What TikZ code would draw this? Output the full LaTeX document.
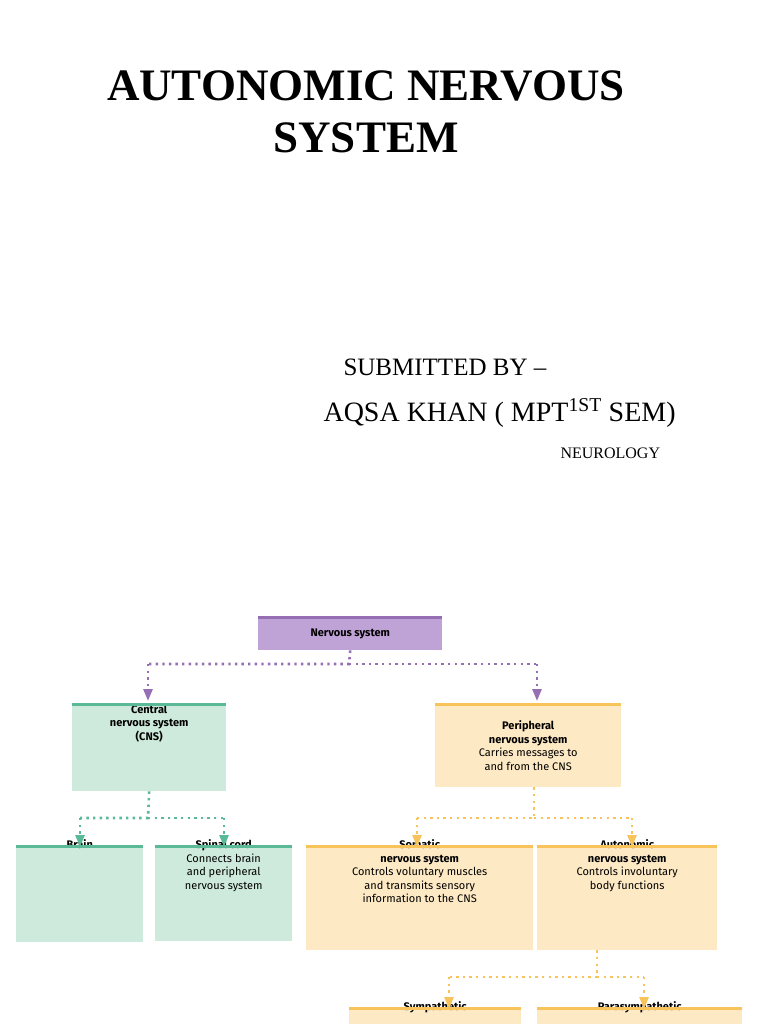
\documentclass[tikz,border=0pt]{standalone}
\usepackage{fontspec}
\setmainfont{Liberation Serif}
\newfontfamily\boxfont{Fira Sans}
\usetikzlibrary{arrows.meta}
\definecolor{nsfill}{RGB}{192,163,214}
\definecolor{nsline}{RGB}{150,110,180}
\definecolor{cnsfill}{RGB}{206,234,220}
\definecolor{cnsline}{RGB}{90,185,150}
\definecolor{pnsfill}{RGB}{253,233,196}
\definecolor{pnsline}{RGB}{247,195,90}
\tikzset{
    box/.style = {
        anchor=north west,
        inner sep=0pt,
        align=center,
        font=\boxfont\fontsize{11}{13.5}\selectfont,
        },
    ns box/.style = {
        box,
        fill = nsfill,
        },
    cns box/.style = {
        box,
        fill = cnsfill,
        },
    pns box/.style = {
        box,
        fill = pnsfill,
        },
    link/.style = {
        line width=2.6pt,
        dash pattern=on 2.4pt off 4.2pt,
        },
    tip/.style = {
        -{Triangle[width=9pt,length=12pt]},
        line width=2.6pt,
        dash pattern=on 2.4pt off 4.2pt,
        shorten >=-1pt,
        },
}

\begin{document}
\begin{tikzpicture}[x=1pt,y=-1pt]
    \useasboundingbox (0,0) rectangle (768,1024);

    % title page text
    \node[font=\bfseries\fontsize{45}{52}\selectfont, align=center] (title) at (366,112)
        {AUTONOMIC NERVOUS\\SYSTEM};
    \node[font=\fontsize{25}{30}\selectfont, anchor=west] (by) at (340,367) {SUBMITTED BY --};
    \node[font=\fontsize{28}{32}\selectfont, anchor=west] (name) at (320,413)
        {AQSA KHAN ( MPT\textsuperscript{1ST} SEM)};
    \node[font=\fontsize{16}{20}\selectfont, anchor=west] (dept) at (557,453) {NEUROLOGY};

    % boxes
    \node[ns box, minimum width=184pt, minimum height=33pt] (ns) at (258,617)
        {\textbf{Nervous system}};
    \node[cns box, minimum width=154pt, minimum height=87pt, text depth=50pt] (cns) at (72,704)
        {\textbf{Central}\\\textbf{nervous system}\\\textbf{(CNS)}};
    \node[pns box, minimum width=186pt, minimum height=83pt] (pns) at (435,704)
        {\textbf{Peripheral}\\\textbf{nervous system}\\Carries messages to\\and from the CNS};
    \node[cns box, minimum width=127pt, minimum height=96pt] (brain) at (16,846) {};
    \node[box, anchor=north] at (brain.north) {\\[-11pt]\textbf{Brain}};
    \node[cns box, minimum width=137pt, minimum height=95pt] (cord) at (155,846) {};
    \node[box, anchor=north] at (cord.north) {\\[-11pt]\textbf{Spinal cord}\\Connects brain\\and peripheral\\nervous system};
    \node[pns box, minimum width=227pt, minimum height=104pt] (soma) at (306,846) {};
    \node[box, anchor=north] at (soma.north) {\\[-11pt]\textbf{Somatic}\\\textbf{nervous system}\\Controls voluntary muscles\\and transmits sensory\\information to the CNS};
    \node[pns box, minimum width=180pt, minimum height=104pt] (ans) at (537,846) {};
    \node[box, anchor=north] at (ans.north) {\\[-11pt]\textbf{Autonomic}\\\textbf{nervous system}\\Controls involuntary\\body functions};
    \node[pns box, minimum width=172pt, minimum height=40pt] (symp) at (349,1008) {};
    \node[box, anchor=north] at (symp.north) {\\[-11pt]\textbf{Sympathetic}};
    \node[pns box, minimum width=205pt, minimum height=40pt] (para) at (537,1008) {};
    \node[box, anchor=north] at (para.north) {\\[-11pt]\textbf{Parasympathetic}};

    % top bars
    \draw[nsline, line width=3pt] (ns.north west) -- (ns.north east);
    \foreach \b in {cns,brain,cord}
        \draw[cnsline, line width=3pt] (\b.north west) -- (\b.north east);
    \foreach \b in {pns,soma,ans,symp,para}
        \draw[pnsline, line width=3pt] (\b.north west) -- (\b.north east);

    % connectors
    \coordinate (nsj) at (349,664);
    \draw[link, nsline] (ns.south) -- (nsj) -- (148,664);
    \draw[link, nsline] (nsj) -- (537,664);
    \draw[tip, nsline] (148,664) -- (148,700);
    \draw[tip, nsline] (537,664) -- (537,700);

    \coordinate (cnsj) at (148,818);
    \draw[link, cnsline] (cns.south) -- (cnsj) -- (80,818);
    \draw[link, cnsline] (cnsj) -- (224,818);
    \draw[tip, cnsline] (80,818) -- (brain.north -| 80,0);
    \draw[tip, cnsline] (224,818) -- (cord.north -| 224,0);

    \coordinate (pnsj) at (534,818);
    \draw[link, pnsline] (pns.south -| pnsj) -- (pnsj) -- (417,818);
    \draw[link, pnsline] (pnsj) -- (632,818);
    \draw[tip, pnsline] (417,818) -- (soma.north -| 417,0);
    \draw[tip, pnsline] (632,818) -- (ans.north -| 632,0);

    \coordinate (ansj) at (597,977);
    \draw[link, pnsline] (ans.south -| ansj) -- (ansj) -- (449,977);
    \draw[link, pnsline] (ansj) -- (644,977);
    \draw[tip, pnsline] (449,977) -- (symp.north -| 449,0);
    \draw[tip, pnsline] (644,977) -- (para.north -| 644,0);
\end{tikzpicture}
\end{document}
